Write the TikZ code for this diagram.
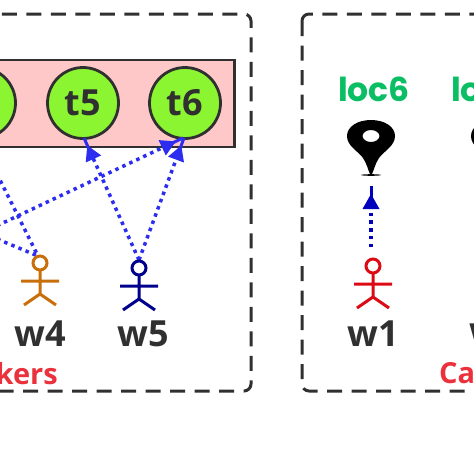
\documentclass[tikz,border=0pt]{standalone}
\usepackage{fontspec}
\setmainfont{Open Sans}
\newfontfamily\locfont{Poppins}
\usetikzlibrary{calc,arrows.meta}
\definecolor{boxline}{RGB}{48,48,48}
\definecolor{flowblue}{RGB}{45,45,240}
\definecolor{deepblue}{RGB}{0,0,190}
\definecolor{tgreen}{RGB}{140,245,50}
\definecolor{tpink}{RGB}{255,200,200}
\definecolor{lblred}{RGB}{235,50,60}
\definecolor{locgreen}{RGB}{10,190,100}
\definecolor{wfour}{RGB}{200,110,10}
\definecolor{wfive}{RGB}{0,0,140}
\definecolor{wone}{RGB}{220,10,20}
\tikzset{
  x=1pt,y=-1pt,
  groupbox/.style={draw=boxline,line width=3pt,dash pattern=on 15pt off 9.5pt,rounded corners=7pt},
  band/.style={draw=boxline,line width=2.6pt,fill=tpink},
  task/.style={draw=boxline,line width=2.8pt,fill=tgreen,circlebody,inner sep=0pt,text=boxline,font=\fontsize{36}{37}\selectfont\bfseries},
  circlebody/.style={circle,minimum size=71pt},
  wlabel/.style={text=boxline,font=\fontsize{36}{37}\selectfont\bfseries,inner sep=0pt},
  grouplabel/.style={text=lblred,font=\fontsize{29}{30}\selectfont\bfseries,inner sep=0pt},
  loclabel/.style={text=locgreen,font=\locfont\fontsize{33}{34}\selectfont\bfseries,inner sep=0pt},
}
\newcommand{\flowarrow}[3]{%
  \draw[#3,line width=3.5pt,dash pattern=on 3.5pt off 4.2pt] (#1) -- ($(#2)!18pt!(#1)$);
  \draw[#3,line width=3pt] (#2) -- ($(#2)!18pt!(#1)$);
  \fill[#3] ($(#2)!8pt!(#1)$) -- ($(#2)!23pt!(#1)!8.5pt!90:(#1)$) -- ($(#2)!23pt!(#1)!8.5pt!-90:(#1)$) -- cycle;
}
\newcommand{\stickman}[4]{%
  \draw[#4,line width=3pt] (#2,#3) circle[radius=7pt];
  \draw[#4,line width=3pt] (#2,#3+7) -- (#2,#3+31) (#2-19,#3+18) -- (#2+19,#3+18)
    (#2-16,#3+42) -- (#2,#3+31) -- (#2+16,#3+42);
}
\newcommand{\pinshape}[2]{%
  \fill[black,even odd rule] (#1,#2-16) .. controls (#1+14,#2-16) and (#1+24,#2-9) .. (#1+24,#2+0)
    .. controls (#1+24,#2+10) and (#1+13,#2+15) .. (#1+8,#2+22)
    .. controls (#1+4,#2+28) and (#1+3,#2+34) .. (#1+1,#2+38) -- (#1-1,#2+38)
    .. controls (#1-3,#2+34) and (#1-4,#2+28) .. (#1-8,#2+22)
    .. controls (#1-13,#2+15) and (#1-24,#2+10) .. (#1-24,#2+0)
    .. controls (#1-24,#2-9) and (#1-14,#2-16) .. (#1,#2-16) -- cycle
    (#1+8.5,#2) arc[x radius=8.5pt,y radius=6pt,start angle=0,end angle=360];
  \fill[black] (#1,#2+39) ellipse[x radius=10pt,y radius=0.8pt];
}
\begin{document}
\begin{tikzpicture}
\useasboundingbox (0,0) rectangle (474,474);
\clip (0,0) rectangle (474,474);
\draw[groupbox] (-100,14) rectangle (251,391);
\draw[groupbox] (302,14) rectangle (600,391);
\draw[band] (-40,60) rectangle (234.5,147);
\node[task] (t4) at (-20,103) {};
\node[task] (t5) at (83,103) {t5};
\node[task] (t6) at (185,103) {t6};
\coordinate (t5in) at (84,138);
\coordinate (t6a) at (184,138);
\coordinate (t6b) at (183,138);
\coordinate (w4top) at (38,256);
\coordinate (w5top) at (139,260);
\coordinate (w1top) at (371,247);
\coordinate (pintip) at (371,186);
\coordinate (offa) at (-10,160);
\coordinate (offb) at (-10,236);
\coordinate (offc) at (-10,229);
\flowarrow{w5top}{t5in}{flowblue}
\flowarrow{w5top}{t6a}{flowblue}
\flowarrow{offc}{t6b}{flowblue}
\draw[flowblue,line width=3.5pt,dash pattern=on 3.5pt off 4.2pt] (offa) -- (w4top);
\draw[flowblue,line width=3.5pt,dash pattern=on 3.5pt off 4.2pt] (offb) -- (w4top);
\flowarrow{w1top}{pintip}{deepblue}
\stickman{}{40}{263}{wfour}
\stickman{}{139}{268}{wfive}
\stickman{}{373}{266}{wone}
\pinshape{371}{136}
\pinshape{495}{136}
\node[wlabel] (w4) at (40,334) {w4};
\node[wlabel] (w5) at (143,334) {w5};
\node[wlabel] (w1) at (373,334) {w1};
\node[wlabel,anchor=west] (wx) at (469,334) {w};
\node[grouplabel,anchor=east] (workers) at (58,374) {kers};
\node[grouplabel,anchor=west] (cand) at (439,373) {Ca};
\node[loclabel] (loc6) at (374,89) {loc6};
\node[loclabel,anchor=west] (loc7) at (451,89) {lo};
\end{tikzpicture}
\end{document}
